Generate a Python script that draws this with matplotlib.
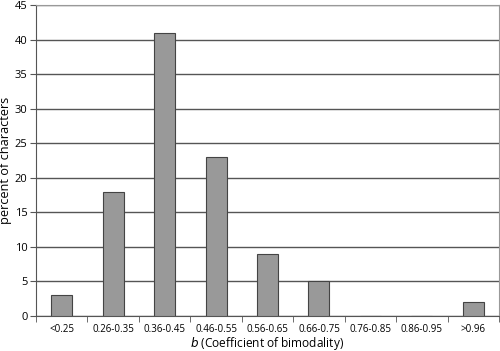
import numpy as np
import matplotlib
matplotlib.use('Agg')
import matplotlib.pyplot as plt

plt.rcParams['font.family'] = ['Open Sans', 'DejaVu Sans']

categories = ['<0.25', '0.26-0.35', '0.36-0.45', '0.46-0.55', '0.56-0.65',
              '0.66-0.75', '0.76-0.85', '0.86-0.95', '>0.96']
percent = [3, 18, 41, 23, 9, 5, 0, 0, 2]

fig = plt.figure(figsize=(5, 3.51), dpi=100)
ax = fig.add_axes([0.072, 0.0997, 0.926, 0.886])

x = np.arange(len(categories))
ax.bar(x, percent, width=0.41, color='#999999', edgecolor='#444444',
       linewidth=0.8, zorder=3)

ax.set_xlim(-0.5, len(categories) - 0.5)
ax.set_ylim(0, 45)
ax.set_yticks(np.arange(0, 46, 5))
ax.yaxis.grid(True, color='#555555', linewidth=1.0, zorder=0)

ax.set_xticks(x)
ax.set_xticklabels(categories, fontsize=7)
ax.tick_params(axis='x', length=0, pad=6)
ax.set_xticks(np.arange(-0.5, len(categories), 1), minor=True)
ax.tick_params(axis='x', which='minor', length=4, color='#555555')
ax.tick_params(axis='y', labelsize=8, length=4, color='#555555', pad=2)

for side in ['top', 'right']:
    ax.spines[side].set_color('#999999')
for side in ['left', 'bottom']:
    ax.spines[side].set_color('#555555')

ax.set_ylabel('percent of characters', fontsize=9.2)
ax.yaxis.set_label_coords(-0.052, 0.5)
ax.set_xlabel(r'$\it{b}$ (Coefficient of bimodality)', fontsize=8.6)
ax.xaxis.set_label_coords(0.5, -0.062)

plt.savefig('out.png', dpi=100)
